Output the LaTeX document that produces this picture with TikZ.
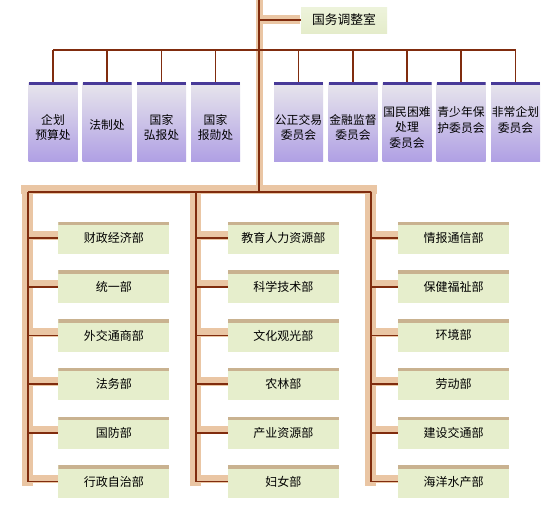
\documentclass[tikz,border=0pt]{standalone}
\usepackage{fontspec}
\newfontfamily\cjk{Noto Sans CJK SC}
\definecolor{tanc}{RGB}{234,198,164}
\definecolor{brn}{RGB}{128,44,14}
\definecolor{gfill}{RGB}{230,238,204}
\definecolor{gtop}{RGB}{201,178,144}
\definecolor{ptop}{RGB}{72,58,152}
\definecolor{plight}{RGB}{232,230,236}
\definecolor{pdark}{RGB}{176,160,228}
\begin{document}
\begin{tikzpicture}[x=1pt,y=-1pt,
 conn/.style={draw=brn,line width=1.7pt},
 band/.style={fill=tanc},
 gbox/.style={rectangle,inner sep=0pt,minimum width=111pt,minimum height=32.5pt,fill=gfill,
   font=\cjk\fontsize{12}{14}\selectfont,
   path picture={\fill[gtop] (path picture bounding box.north west) rectangle ([yshift=-3.5pt]path picture bounding box.north east);}},
 pbox/.style={rectangle,inner sep=0pt,minimum width=49pt,minimum height=79pt,top color=plight,bottom color=pdark,middle color=plight!50!pdark,
   path picture={\fill[ptop] (path picture bounding box.north west) rectangle ([yshift=-2.8pt]path picture bounding box.north east);}},
 ptext/.style={align=center,inner sep=0pt,font=\cjk\fontsize{11.8}{15.5}\selectfont},
 obox/.style={rectangle,inner sep=0pt,minimum width=86pt,minimum height=26pt,top color=gfill!70!white,bottom color=gfill!90!black!8!gfill,
   font=\cjk\fontsize{12.8}{14}\selectfont}
]
\fill[white] (0,0) rectangle (547,517);
\useasboundingbox (0,0) rectangle (547,517);

% ---------- tan bands ----------
\fill[band] (255.5,0) rectangle (262.5,193);
\fill[band] (259,15) rectangle (300,24);
\fill[band] (21,185) rectangle (377,193.5);
\foreach \cx in {28,196,371}{
  \fill[band] (\cx-6,185) rectangle (\cx+5,485.5);
}
\foreach \cx/\bx in {28/58,196/227.7,371/398}{
  \foreach \ry in {238,286.7,335.4,384.1,432.8,481.5}{
    \fill[band] (\cx,\ry-7) rectangle (\bx,\ry+1.5);
  }
}

% ---------- nodes ----------
\node[obox] (gw) at (344,20) {国务调整室};

\node[pbox] (P1) at (53,121.5) {};
\node[pbox] (P2) at (107,121.5) {};
\node[pbox] (P3) at (161.5,121.5) {};
\node[pbox] (P4) at (215.5,121.5) {};
\node[pbox] (P5) at (298.5,121.5) {};
\node[pbox] (P6) at (353,121.5) {};
\node[pbox] (P7) at (407,121.5) {};
\node[pbox] (P8) at (461,121.5) {};
\node[pbox] (P9) at (515.5,121.5) {};

\node[ptext] (T1) at (53,127.5) {企划\\预算处};
\node[ptext] (T2) at (107,125) {法制处};
\node[ptext] (T3) at (161.5,127.5) {国家\\弘报处};
\node[ptext] (T4) at (215.5,127.5) {国家\\报勋处};
\node[ptext] (T5) at (298.5,127.5) {公正交易\\委员会};
\node[ptext] (T6) at (353,127.5) {金融监督\\委员会};
\node[ptext] (T7) at (407,127.3) {国民困难\\处理\\委员会};
\node[ptext] (T8) at (461,120) {青少年保\\护委员会};
\node[ptext] (T9) at (515.5,120) {非常企划\\委员会};

\foreach \n [count=\i] in {财政经济部,统一部,外交通商部,法务部,国防部,行政自治部}{
  \pgfmathsetmacro{\yy}{238+48.7*(\i-1)}
  \node[gbox] (L\i) at (113.9,\yy) {\n};
}
\foreach \n [count=\i] in {教育人力资源部,科学技术部,文化观光部,农林部,产业资源部,妇女部}{
  \pgfmathsetmacro{\yy}{238+48.7*(\i-1)}
  \node[gbox] (M\i) at (283.3,\yy) {\n};
}
\foreach \n [count=\i] in {情报通信部,保健福祉部,环境部,劳动部,建设交通部,海洋水产部}{
  \pgfmathsetmacro{\yy}{238+48.7*(\i-1)}
  \node[gbox] (R\i) at (453.5,\yy) {\n};
}

% ---------- connectors ----------
\coordinate (top) at (259,0);
\coordinate (hub) at (259,191.7);
\coordinate (hl) at (0,50);
\coordinate (cL) at (28,191.7);
\coordinate (cM) at (196,191.7);
\coordinate (cR) at (371,191.7);

\draw[conn] (top) -- (hub);
\draw[conn] (top |- gw.west) -- (gw.west);
\draw[conn] (P1.north |- hl) -- (P9.north |- hl);
\foreach \p in {P1,P2,P3,P4,P5,P6,P7,P8,P9}{
  \draw[conn] (\p.north |- hl) -- (\p.north);
}
\draw[conn] (cL) -- (cR);
\foreach \i in {1,...,6}{
  \draw[conn] (cL) |- (L\i.west);
  \draw[conn] (cM) |- (M\i.west);
  \draw[conn] (cR) |- (R\i.west);
}
\end{tikzpicture}
\end{document}
